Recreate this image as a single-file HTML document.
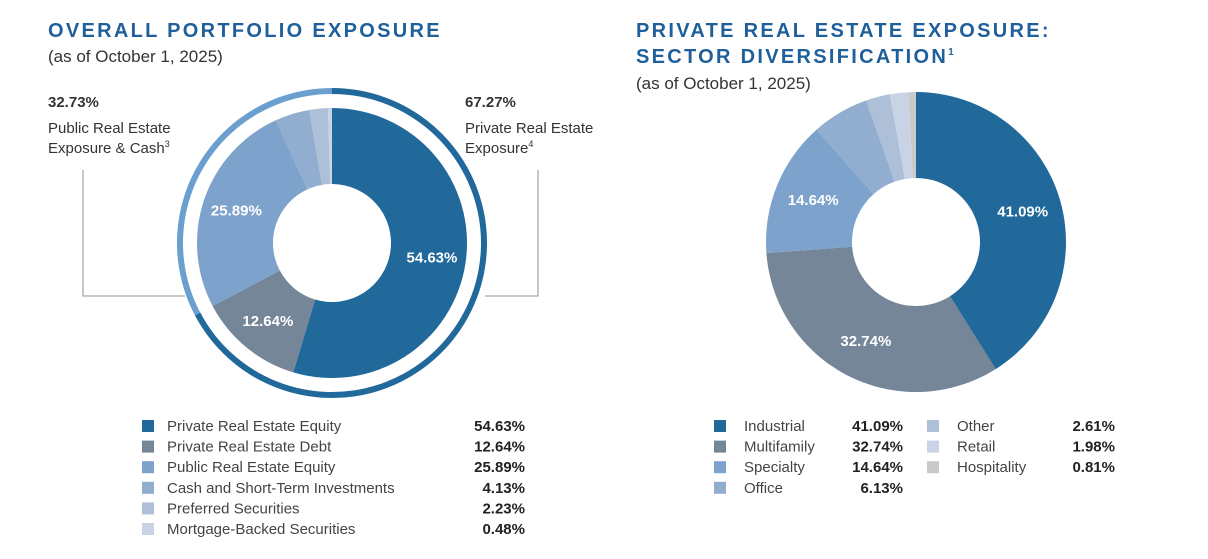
<!DOCTYPE html>
<html><head><meta charset="utf-8"><style>
body{margin:0;background:#fff;}
svg text{font-family:"Liberation Sans",sans-serif;}
</style></head><body>
<svg id="c" width="1208" height="554" viewBox="0 0 1208 554" xmlns="http://www.w3.org/2000/svg">
<text x="48" y="37" font-size="20" font-weight="bold" fill="#1f5f9a" letter-spacing="2.3">OVERALL PORTFOLIO EXPOSURE</text>
<text x="48" y="62" font-size="17" fill="#333">(as of October 1, 2025)</text>
<text x="636" y="37" font-size="20" font-weight="bold" fill="#1f5f9a" letter-spacing="2.3">PRIVATE REAL ESTATE EXPOSURE:</text>
<text x="636" y="63" font-size="20" font-weight="bold" fill="#1f5f9a" letter-spacing="2.3">SECTOR DIVERSIFICATION<tspan font-size="10" dy="-8">1</tspan></text>
<text x="636" y="89" font-size="17" fill="#333">(as of October 1, 2025)</text>
<text x="48" y="107" font-size="15" font-weight="bold" fill="#333">32.73%</text>
<text x="48" y="133" font-size="15" fill="#333">Public Real Estate</text>
<text x="48" y="153" font-size="15" fill="#333">Exposure &amp; Cash<tspan font-size="9" dy="-6">3</tspan></text>
<text x="465" y="107" font-size="15" font-weight="bold" fill="#333">67.27%</text>
<text x="465" y="133" font-size="15" fill="#333">Private Real Estate</text>
<text x="465" y="153" font-size="15" fill="#333">Exposure<tspan font-size="9" dy="-6">4</tspan></text>
<polyline points="83,170 83,296 185,296" fill="none" stroke="#aaa" stroke-width="1.3"/>
<polyline points="538,170 538,296 485,296" fill="none" stroke="#aaa" stroke-width="1.3"/>
<g id="left"></g><g id="right"></g>
</svg>
<script>
const leftCats=["Private Real Estate Equity","Private Real Estate Debt","Public Real Estate Equity","Cash and Short-Term Investments","Preferred Securities","Mortgage-Backed Securities"];
const leftVals=[54.63,12.64,25.89,4.13,2.23,0.48];
const leftColors=["#21689b","#758699","#7da3cc","#91aed0","#aebfd8","#c8d4e6"];
const ringVals=[67.27,32.73];
const rightCats=["Industrial","Multifamily","Specialty","Office","Other","Retail","Hospitality"];
const rightVals=[41.09,32.74,14.64,6.13,2.61,1.98,0.81];
const rightColors=["#21689b","#758699","#7da3cc","#91aed0","#aebfd8","#c8d4e6","#c9c9c9"];
const NS="http://www.w3.org/2000/svg";
function pt(cx,cy,r,a){return [cx+r*Math.sin(a),cy-r*Math.cos(a)];}
function arc(cx,cy,r0,r1,a0,a1){
 const l=(a1-a0)>Math.PI?1:0;
 const p1=pt(cx,cy,r1,a0),p2=pt(cx,cy,r1,a1),p3=pt(cx,cy,r0,a1),p4=pt(cx,cy,r0,a0);
 return `M${p1}A${r1},${r1} 0 ${l} 1 ${p2}L${p3}A${r0},${r0} 0 ${l} 0 ${p4}Z`;}
function donut(g,cx,cy,r0,r1,vals,colors,labelMin){
 const tot=vals.reduce((a,b)=>a+b,0);let a=0;
 vals.forEach((v,i)=>{
  const a1=a+v/tot*2*Math.PI;
  const p=document.createElementNS(NS,"path");
  p.setAttribute("d",arc(cx,cy,r0,r1,a,a1));p.setAttribute("fill",colors[i]);
  
  
  g.appendChild(p);
  if(v>=labelMin){const m=(a+a1)/2,q=pt(cx,cy,(r0+r1)/2+4,m);
   const t=document.createElementNS(NS,"text");
   t.setAttribute("x",q[0]);t.setAttribute("y",q[1]+5);t.setAttribute("text-anchor","middle");
   t.setAttribute("font-size","15");t.setAttribute("font-weight","bold");t.setAttribute("fill","#fff");
   t.textContent=v.toFixed(2)+"%";
   
   
   g.appendChild(t);}
  a=a1;});}
const L=document.getElementById("left"),R=document.getElementById("right");
donut(L,332,243,59,135,leftVals,leftColors,10);
// outer ring: private (dark) clockwise, public (light) rest
(function(){const tot=ringVals[0]+ringVals[1];let a=0;const rc=["#21689b","#6a9fd0"];
 ringVals.forEach((v,i)=>{const a1=a+v/tot*2*Math.PI;const p=document.createElementNS(NS,"path");
 p.setAttribute("d",arc(332,243,149,155,a,a1));p.setAttribute("fill",rc[i]);
 
 
 L.appendChild(p);a=a1;});})();
donut(R,916,242,64,150,rightVals,rightColors,10);
function legend(cats,vals,colors,sx,lx,vx,y0,dy){
 cats.forEach((c,i)=>{const y=y0+i*dy;
  const s=document.createElementNS(NS,"rect");
  s.setAttribute("x",sx);s.setAttribute("y",y-6);s.setAttribute("width",12);s.setAttribute("height",12);s.setAttribute("fill",colors[i]);
  
  
  document.getElementById("c").appendChild(s);
  const t=document.createElementNS(NS,"text");t.setAttribute("x",lx);t.setAttribute("y",y+5);
  t.setAttribute("font-size","15");t.setAttribute("fill","#444");t.textContent=c;
  
  
  document.getElementById("c").appendChild(t);
  const v=document.createElementNS(NS,"text");v.setAttribute("x",vx);v.setAttribute("y",y+5);
  v.setAttribute("text-anchor","end");v.setAttribute("font-size","15");v.setAttribute("font-weight","bold");v.setAttribute("fill","#222");
  v.textContent=vals[i].toFixed(2)+"%";
  
  
  document.getElementById("c").appendChild(v);});}
legend(leftCats,leftVals,leftColors,142,167,525,426,20.6);
legend(rightCats.slice(0,4),rightVals.slice(0,4),rightColors.slice(0,4),714,744,903,426,20.6);
legend(rightCats.slice(4),rightVals.slice(4),rightColors.slice(4),927,957,1115,426,20.6);
</script>
</body></html>
